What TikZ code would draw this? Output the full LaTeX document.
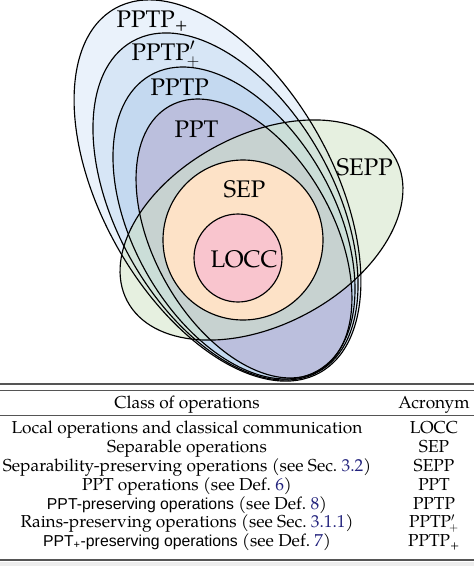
\documentclass[tikz,border=0pt]{standalone}
\usepackage{fontspec}
\setmainfont{TeX Gyre Pagella}
\newfontfamily\sansf{Liberation Sans}
\definecolor{cA}{RGB}{234,242,251}
\definecolor{cB}{RGB}{215,230,246}
\definecolor{cC}{RGB}{196,217,240}
\definecolor{cD}{RGB}{187,191,221}
\definecolor{cSEPP}{RGB}{210,227,198}
\definecolor{cSEP}{RGB}{253,226,199}
\definecolor{cLOCC}{RGB}{249,197,206}
\definecolor{rulegray}{RGB}{85,85,85}
\definecolor{linkc}{RGB}{35,35,125}
\newcommand{\lnk}[1]{\textcolor{linkc}{#1}}
\begin{document}
\begin{tikzpicture}[x=1pt,y=1pt,line width=1.15pt,
  eA/.style={x radius=208.9pt,y radius=115.1pt,rotate=-60.6},
  eB/.style={x radius=189.6pt,y radius=108.3pt,rotate=-60.6},
  eC/.style={x radius=169.8pt,y radius=100.7pt,rotate=-60.6},
  eD/.style={x radius=151.9pt,y radius=89.6pt,rotate=-60.6},
  eS/.style={x radius=151.9pt,y radius=95.1pt,rotate=27.9},
  setlbl/.style={font=\fontsize{24}{28}\selectfont,anchor=base west,inner sep=0pt},
  rowtxt/.style={font=\fontsize{17.3}{20}\selectfont,anchor=base,inner sep=0pt},
  rulethin/.style={draw=rulegray,line width=0.8pt},
  rulethick/.style={draw=rulegray,line width=2pt}]
\useasboundingbox (0,0) rectangle (474,-566);
% fills
\fill[cA] (217.5,-190.5) circle[eA];
\fill[cB] (225.5,-206.5) circle[eB];
\fill[cC] (234,-223) circle[eC];
\fill[cD] (244,-238.5) circle[eD];
\fill[cSEPP,fill opacity=0.55] (261.5,-230) circle[eS];
% outlines
\draw (217.5,-190.5) circle[eA];
\draw (225.5,-206.5) circle[eB];
\draw (234,-223) circle[eC];
\draw (244,-238.5) circle[eD];
\draw (261.5,-230) circle[eS];
\draw[fill=cSEP] (243,-240) circle[radius=80pt];
\draw[fill=cLOCC] (238,-258) circle[radius=44pt];
% labels
\node[setlbl] (lPPTPp) at (116,-27) {PPTP\textsubscript{+}};
\node[setlbl] (lRains) at (131,-60) {PPTP$'_{\!+}$};
\node[setlbl] (lPPTP) at (150,-95) {PPTP};
\node[setlbl] (lPPT) at (174,-137) {PPT};
\node[setlbl] (lSEP) at (223,-197) {SEP};
\node[setlbl] (lLOCC) at (210,-267) {LOCC};
\node[setlbl] (lSEPP) at (336,-175) {SEPP};
% table rules
\fill[black!7] (0,-562) rectangle (474,-566);
\draw[rulethick] (0,-384) -- (474,-384);
\draw[rulethin] (0,-390) -- (474,-390);
\draw[rulethin] (0,-415) -- (474,-415);
\draw[rulethick,line width=2.6pt] (0,-560) -- (474,-560);
% table text
\node[rowtxt] (h1) at (187,-408) {Class of operations};
\node[rowtxt] (h2) at (434,-408) {Acronym};
\node[rowtxt] (r1a) at (187,-433) {Local operations and classical communication};
\node[rowtxt] (r1b) at (434,-433) {LOCC};
\node[rowtxt] (r2a) at (187,-452) {Separable operations};
\node[rowtxt] (r2b) at (434,-452) {SEP};
\node[rowtxt] (r3a) at (187,-471) {Separability-preserving operations (see Sec.~\lnk{3.2})};
\node[rowtxt] (r3b) at (434,-471) {SEPP};
\node[rowtxt] (r4a) at (187,-490) {PPT operations (see Def.~\lnk{6})};
\node[rowtxt] (r4b) at (434,-490) {PPT};
\node[rowtxt] (r5a) at (187,-509) {{\sansf\fontsize{15.8}{19}\selectfont PPT-preserving operations} (see Def.~\lnk{8})};
\node[rowtxt] (r5b) at (434,-509) {PPTP};
\node[rowtxt] (r6a) at (187,-527.5) {Rains-preserving operations (see Sec.~\lnk{3.1.1})};
\node[rowtxt] (r6b) at (434,-527.5) {PPTP$'_{\!+}$};
\node[rowtxt] (r7a) at (187,-546.5) {{\sansf\fontsize{15.8}{19}\selectfont PPT\textsubscript{+}-preserving operations} (see Def.~\lnk{7})};
\node[rowtxt] (r7b) at (434,-546.5) {PPTP\textsubscript{+}};
\end{tikzpicture}
\end{document}
